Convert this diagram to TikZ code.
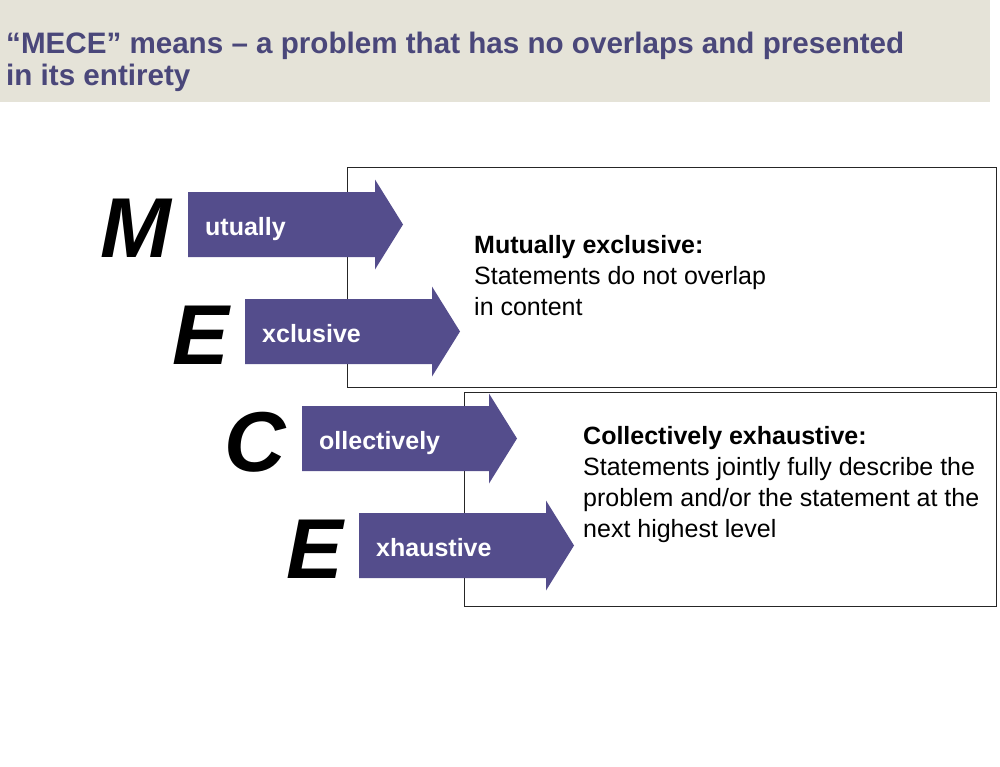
\documentclass[tikz,border=0pt]{standalone}
\usepackage{fontspec}
\setmainfont{Liberation Sans}
\usetikzlibrary{positioning}

\definecolor{meceband}{RGB}{229,227,216}
\definecolor{mecetitle}{RGB}{74,71,122}
\definecolor{mecearrow}{RGB}{84,77,140}

\begin{document}
\begin{tikzpicture}
[x=1pt,y=-1pt,
band/.style={fill=meceband,draw=none},
title/.style={anchor=north west,inner sep=0pt,align=left,text=mecetitle,font=\fontsize{29.6}{32}\selectfont\bfseries},
box/.style={rectangle,draw=black!85,line width=1.3pt,anchor=north west,inner sep=0pt},
note/.style={anchor=north west,inner sep=0pt,align=left,font=\fontsize{25}{31}\selectfont},
shaft/.style={fill=mecearrow,draw=none},
letter/.style={anchor=base east,inner sep=0pt,font=\fontsize{85}{85}\selectfont\bfseries\itshape},
word/.style={anchor=base west,inner sep=0pt,text=white,font=\fontsize{25}{30}\selectfont\bfseries}]
\useasboundingbox (0,0) rectangle (1000,766);
\fill[band] (0,0) rectangle (990,102);
\node[title] (title) at (6,32) {“MECE” means – a problem that has no overlaps and presented\\in its entirety};
\node[box,minimum width=649pt,minimum height=220pt] (mebox) at (347,167) {};
\node[box,minimum width=532pt,minimum height=214pt] (cebox) at (464,392) {};
\node[note] (metext) at (474,235) {\textbf{Mutually exclusive:}\\Statements do not overlap\\in content};
\node[note] (cetext) at (583,426) {\textbf{Collectively exhaustive:}\\Statements jointly fully describe the\\problem and/or the statement at the\\next highest level};
% one arrow per letter of MECE
\foreach \i/\ch/\txt in {0/M/utually,1/E/xclusive,2/C/ollectively,3/E/xhaustive}{
  \pgfmathsetmacro\ax{188+57*\i}
  \pgfmathsetmacro\ay{192+107*\i}
  \fill[shaft] (\ax,\ay) -- ++(187,0) -- ++(0,-12.5) -- ++(28,45) -- ++(-28,45) -- ++(0,-12.5) -- ++(-187,0) -- cycle;
  \node[letter] (letter\i) at (\ax-16,\ay+65) {\ch};
  \node[word] (word\i) at (\ax+17,\ay+43) {\txt};
}
\end{tikzpicture}
\end{document}
